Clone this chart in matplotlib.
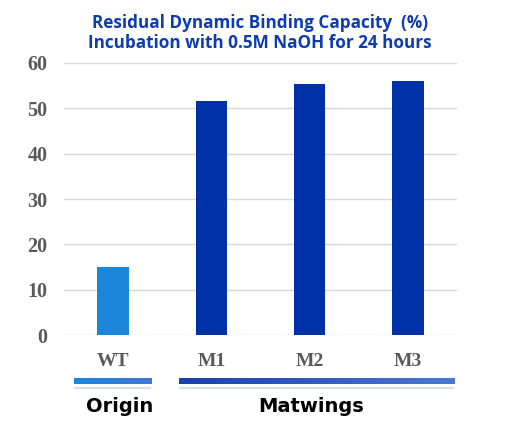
import matplotlib
matplotlib.use("Agg")
import matplotlib.pyplot as plt
import numpy as np
from matplotlib.transforms import blended_transform_factory
from matplotlib.colors import LinearSegmentedColormap

categories = ["WT", "M1", "M2", "M3"]
values = [15.0, 51.6, 55.4, 56.0]
bar_colors = ["#1A87DD", "#0030A8", "#0030A8", "#0030A8"]
yticks = [0, 10, 20, 30, 40, 50, 60]
groups = ["Origin", "Matwings"]
group_members = [[0], [1, 2, 3]]
title = "Residual Dynamic Binding Capacity  (%)\nIncubation with 0.5M NaOH for 24 hours"

fig = plt.figure(figsize=(5.19, 4.23), dpi=100)
ax = fig.add_axes([64/519, 1-335/423, 393/519, 272/423])
x = np.arange(len(categories))
ax.bar(x, values, width=0.32, color=bar_colors, zorder=3)
ax.set_xlim(-0.5, len(categories) - 0.5)
ax.set_ylim(0, 60)
ax.set_yticks(yticks)
ax.set_yticklabels([str(t) for t in yticks])
ax.set_xticks(x)
ax.set_xticklabels(categories)
ax.grid(axis="y", color="#D9D9D9", linewidth=1.0, zorder=0)
for s in ax.spines.values():
    s.set_visible(False)
ax.tick_params(axis="both", length=0)
ax.tick_params(axis="y", pad=12)
ax.tick_params(axis="x", pad=13)
for lab in ax.get_yticklabels():
    lab.set_fontsize(14.5)
for lab in ax.get_xticklabels():
    lab.set_fontsize(14)
for lab in ax.get_yticklabels() + ax.get_xticklabels():
    lab.set_fontfamily("Liberation Serif")
    lab.set_fontweight("bold")
    lab.set_color("#595959")

fig.text(0.5, 1-33/423, title, ha="center", va="center", fontsize=12.3,
         fontweight="bold", color="#0D3BB0", family="Open Sans", linespacing=1.15)

# group bracket bars below the axis
trans = blended_transform_factory(ax.transData, fig.transFigure)
pads = [(0.40, 0.39), (0.33, 0.47)]
label_shift = [0.07, -0.05]
cmaps = [LinearSegmentedColormap.from_list("o", ["#1A87DD", "#4177D2"]),
         LinearSegmentedColormap.from_list("m", ["#1B3FAE", "#4A79D4"])]
grad = np.linspace(0, 1, 256).reshape(1, -1)
ybar0, ybar1 = 1-384/423, 1-379/423
for gname, members, (pl, pr), cm, sh in zip(groups, group_members, pads, cmaps, label_shift):
    x0 = members[0] - pl
    x1 = members[-1] + pr
    ax.imshow(grad, cmap=cm, aspect="auto", extent=(x0, x1, ybar0, ybar1),
              transform=trans, clip_on=False, zorder=5)
    ax.plot([x0, x1], [1-388/423, 1-388/423], transform=trans, color="#D3E0F4",
            linewidth=1.5, clip_on=False, solid_capstyle="butt")
    ax.text((x0 + x1) / 2 + sh, 1-406/423, gname, transform=trans, ha="center", va="center",
            fontsize=14, fontweight="bold", color="black", family="DejaVu Sans")

ax.set_xlim(-0.5, len(categories) - 0.5)
ax.set_ylim(0, 60)
fig.savefig("out.png", dpi=100)
